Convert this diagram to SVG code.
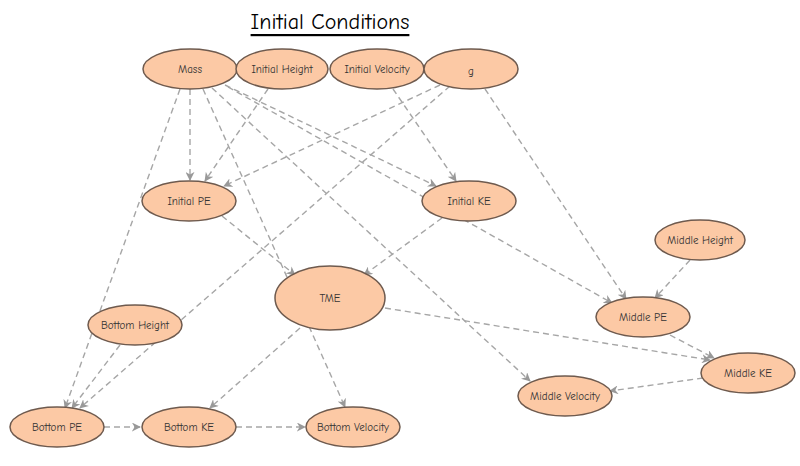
<svg xmlns="http://www.w3.org/2000/svg" width="800" height="466" viewBox="0 0 800 466">
<defs>
<style>
ellipse{fill:#fcc9a5;stroke:#6e5a4e;stroke-width:1.5}
text{font-family:"Comic Neue","DejaVu Sans",sans-serif;font-size:11px;fill:#333;text-anchor:middle;dominant-baseline:central}
.e line{stroke:#a6a6a6;stroke-width:1.4;stroke-dasharray:6,4;marker-end:url(#a)}
</style>
<marker id="a" viewBox="0 0 10 10" refX="9" refY="5" markerWidth="9" markerHeight="9" orient="auto" markerUnits="userSpaceOnUse"><path d="M0,0L10,5L0,10L3,5z" fill="#999"/></marker>
</defs>
<rect width="800" height="466" fill="#fff"/>
<text x="330" y="22" style="font-size:22px;fill:#000;text-decoration:underline">Initial Conditions</text>
<g class="e">
<line x1="190" y1="89" x2="190" y2="180"/>
<line x1="268" y1="89" x2="205" y2="181"/>
<line x1="440" y1="85" x2="224" y2="186"/>
<line x1="225" y1="85" x2="436" y2="186"/>
<line x1="393" y1="89" x2="456" y2="181"/>
<line x1="180" y1="89" x2="65" y2="408"/>
<line x1="203" y1="89" x2="345" y2="407"/>
<line x1="228" y1="87" x2="612" y2="303"/>
<line x1="212" y1="88" x2="530" y2="381"/>
<line x1="450" y1="86" x2="80" y2="408"/>
<line x1="485" y1="89" x2="626" y2="299"/>
<line x1="222" y1="216" x2="295" y2="275"/>
<line x1="442" y1="218" x2="364" y2="275"/>
<line x1="120" y1="345" x2="72" y2="408"/>
<line x1="300" y1="328" x2="210" y2="408"/>
<line x1="385" y1="308" x2="710" y2="360"/>
<line x1="690" y1="260" x2="655" y2="298"/>
<line x1="670" y1="335" x2="714" y2="358"/>
<line x1="703" y1="378" x2="610" y2="391"/>
<line x1="104" y1="427" x2="140" y2="427"/>
<line x1="236" y1="427" x2="305" y2="427"/>
</g>
<g id="mass"><ellipse cx="190" cy="69" rx="47" ry="20"/><text x="190" y="69">Mass</text></g>
<g id="iheight"><ellipse cx="282" cy="69" rx="46" ry="20"/><text x="282" y="69">Initial Height</text></g>
<g id="ivel"><ellipse cx="377" cy="69" rx="47" ry="20"/><text x="377" y="69">Initial Velocity</text></g>
<g id="g"><ellipse cx="471" cy="69" rx="47" ry="20"/><text x="471" y="71">g</text></g>
<g id="ipe"><ellipse cx="189" cy="201" rx="47" ry="20"/><text x="189" y="201">Initial PE</text></g>
<g id="ike"><ellipse cx="469" cy="201" rx="47" ry="20"/><text x="469" y="201">Initial KE</text></g>
<g id="tme"><ellipse cx="330" cy="298" rx="55" ry="32"/><text x="330" y="298">TME</text></g>
<g id="bheight"><ellipse cx="135" cy="325" rx="47" ry="20"/><text x="135" y="325">Bottom Height</text></g>
<g id="mheight"><ellipse cx="700" cy="240" rx="45" ry="20"/><text x="700" y="240">Middle Height</text></g>
<g id="mpe"><ellipse cx="643" cy="317" rx="47" ry="20"/><text x="643" y="317">Middle PE</text></g>
<g id="mke"><ellipse cx="748" cy="373" rx="47" ry="20"/><text x="748" y="373">Middle KE</text></g>
<g id="mvel"><ellipse cx="565" cy="396" rx="47" ry="20"/><text x="565" y="396">Middle Velocity</text></g>
<g id="bpe"><ellipse cx="57" cy="427" rx="47" ry="20"/><text x="57" y="427">Bottom PE</text></g>
<g id="bke"><ellipse cx="189" cy="427" rx="47" ry="20"/><text x="189" y="427">Bottom KE</text></g>
<g id="bvel"><ellipse cx="353" cy="427" rx="47" ry="20"/><text x="353" y="427">Bottom Velocity</text></g>
</svg>
